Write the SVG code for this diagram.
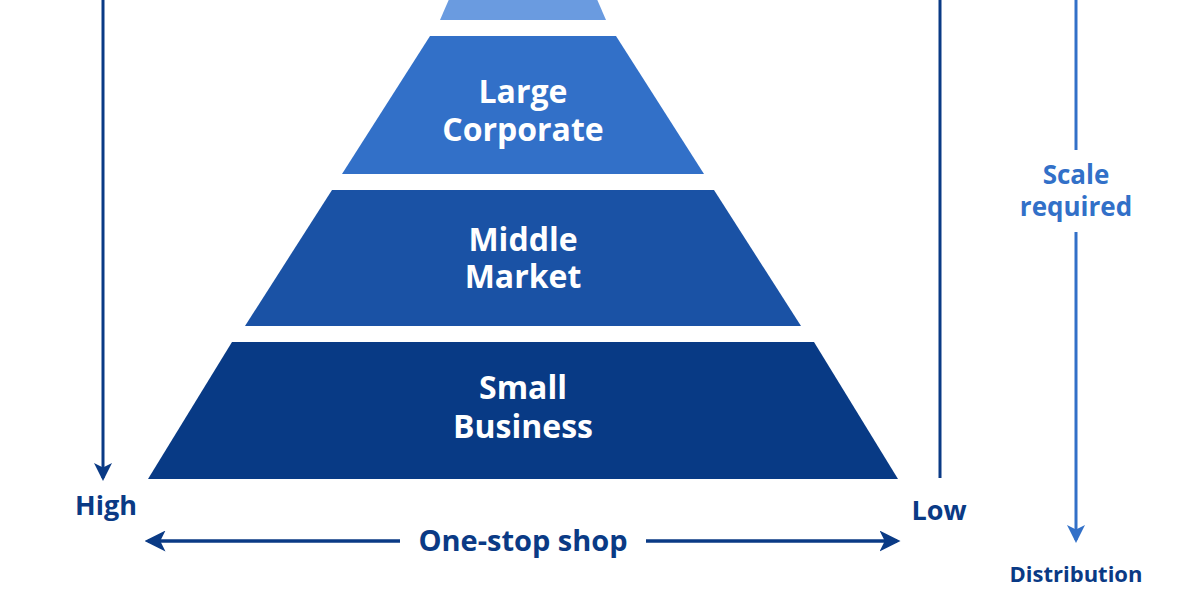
<svg xmlns="http://www.w3.org/2000/svg" width="1200" height="600" viewBox="0 0 1200 600">
<style>
text{font-family:"Open Sans","Liberation Sans",sans-serif;font-weight:bold;text-anchor:middle}
.t{fill:#fff;font-size:32px}
.d{fill:#0a3a85;font-size:27px}
.l{fill:#3270c8;font-size:26px}
</style>
<defs>
<marker id="ad" markerWidth="6" markerHeight="6" refX="5" refY="3" orient="auto" markerUnits="strokeWidth"><path d="M0,0 L6,3 L0,6 L1.5,3 z" fill="#0a3a85"/></marker>
<marker id="al" markerWidth="6" markerHeight="6" refX="5" refY="3" orient="auto" markerUnits="strokeWidth"><path d="M0,0 L6,3 L0,6 L1.5,3 z" fill="#3270c8"/></marker>
</defs>
<rect width="1200" height="600" fill="#fff"/>
<g id="tier-top"><polygon points="453,-10 593,-10 606,20 440,20" fill="#6a9be0"/></g>
<g id="large-corporate"><polygon points="430,36 616,36 704,174 342,174" fill="#3270c8"/><text class="t" x="523" y="103">Large</text><text class="t" x="523" y="141">Corporate</text></g>
<g id="middle-market"><polygon points="332,190 714,190 801,326 245,326" fill="#1a52a5"/><text class="t" x="523" y="251">Middle</text><text class="t" x="523" y="288">Market</text></g>
<g id="small-business"><polygon points="232,342 814,342 898,479 148,479" fill="#083a85"/><text class="t" x="523" y="399">Small</text><text class="t" x="523" y="438">Business</text></g>
<g id="connectors" fill="none">
<line x1="103" y1="0" x2="103" y2="478" stroke="#0a3a85" stroke-width="3" marker-end="url(#ad)"/>
<line x1="940" y1="0" x2="940" y2="478" stroke="#0a3a85" stroke-width="3"/>
<line x1="1076" y1="0" x2="1076" y2="150" stroke="#3270c8" stroke-width="3"/>
<line x1="1076" y1="232" x2="1076" y2="540" stroke="#3270c8" stroke-width="3" marker-end="url(#al)"/>
<line x1="400" y1="541" x2="148" y2="541" stroke="#0a3a85" stroke-width="3.5" marker-end="url(#ad)"/>
<line x1="646" y1="541" x2="897" y2="541" stroke="#0a3a85" stroke-width="3.5" marker-end="url(#ad)"/>
</g>
<g id="labels">
<text class="d" x="106" y="515">High</text>
<text class="d" x="939" y="520">Low</text>
<text class="d" x="523" y="551" style="font-size:29px">One-stop shop</text>
<text class="d" x="1076" y="582" style="font-size:22px">Distribution</text>
<text class="l" x="1076" y="184">Scale</text>
<text class="l" x="1076" y="216">required</text>
</g>
</svg>
